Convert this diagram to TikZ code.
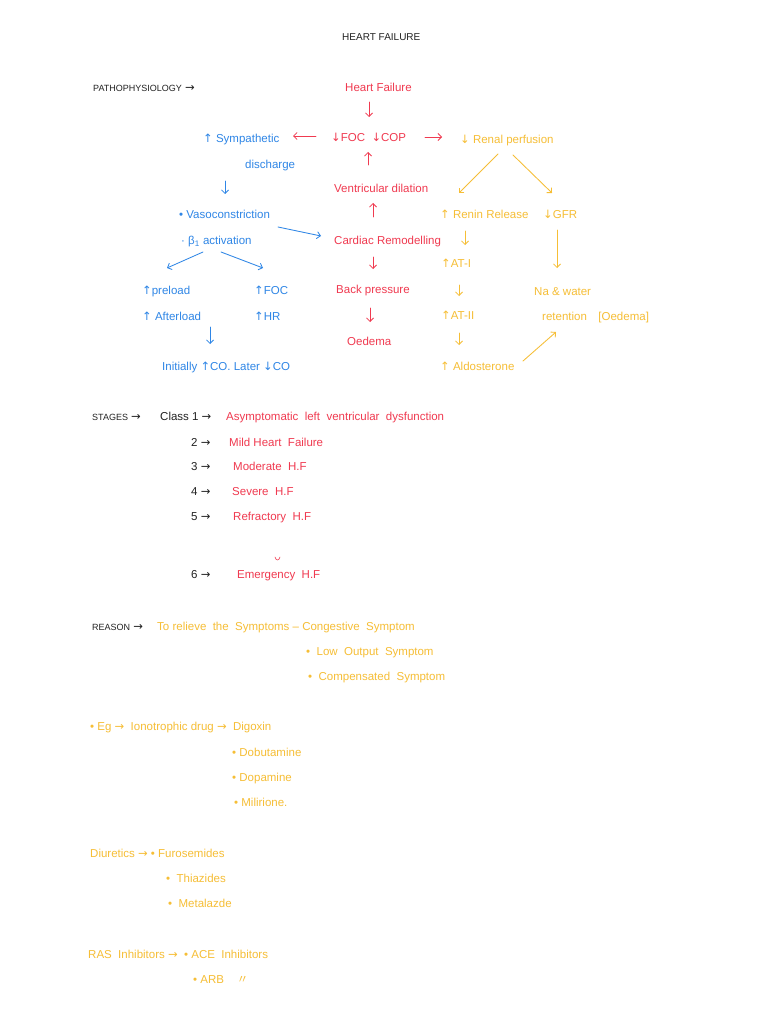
\documentclass[tikz,border=0pt]{standalone}
\usepackage{fontspec}
\setmainfont{Liberation Sans}
\newfontfamily\cjk{Noto Sans CJK SC}
\newfontfamily\dvs{DejaVu Sans}
\usetikzlibrary{arrows.meta,calc}
\definecolor{hred}{HTML}{F03A50}
\definecolor{hblue}{HTML}{2F86E6}
\definecolor{hyel}{HTML}{F6BE36}
\definecolor{hblk}{HTML}{222222}
\newcommand{\hdf}{\fontsize{9}{11}\selectfont}
\newcommand{\arU}{{\dvs ↑}}
\newcommand{\arD}{{\dvs ↓}}
\newcommand{\arR}{{\dvs →}}
\tikzset{
  txt/.style={anchor=west, inner sep=0pt, text height=9.5pt, text depth=2pt, font=\fontsize{11.5}{13}\selectfont},
  rt/.style={txt, text=hred},
  bt/.style={txt, text=hblue},
  yt/.style={txt, text=hyel},
  kt/.style={txt, text=hblk},
  con/.style={line width=0.85pt, line cap=round, -{Straight Barb[length=3.5pt,width=7pt]}},
  rc/.style={con, draw=hred},
  bc/.style={con, draw=hblue},
  yc/.style={con, draw=hyel}
}
\begin{document}
\begin{tikzpicture}[x=1pt,y=-1pt]
\fill[white] (0,0) rectangle (768,1024);
\path[use as bounding box] (0,0) rectangle (768,1024);

% title
\node[kt, font=\fontsize{10}{12}\selectfont] (title) at (342,37) {HEART FAILURE};
\node[kt] (patho) at (93,88) {{\hdf PATHOPHYSIOLOGY}\ \arR};

% red column
\node[rt] (hf) at (345,88) {Heart Failure};
\node[rt] (foc) at (331,138) {\arD{}FOC\ \ \arD{}COP};
\node[rt] (vd) at (334,189) {Ventricular dilation};
\node[rt] (cr) at (334,241) {Cardiac Remodelling};
\node[rt] (bp) at (336,290) {Back pressure};
\node[rt] (oed) at (347,342) {Oedema};

% blue column
\node[bt] (symp) at (203,139) {\arU{} Sympathetic};
\node[bt] (disc) at (245,165) {discharge};
\node[bt] (vaso) at (179,215) {• Vasoconstriction};
\node[bt] (beta) at (181,241) {· β\textsubscript{1} activation};
\node[bt] (pre) at (142,291) {\arU{}preload};
\node[bt] (after) at (142,317) {\arU{} Afterload};
\node[bt] (focup) at (254,291) {\arU{}FOC};
\node[bt] (hr) at (254,317) {\arU{}HR};
\node[bt] (init) at (162,367) {Initially \arU{}CO. Later \arD{}CO};

% yellow column
\node[yt] (renal) at (460,140) {\arD{} Renal perfusion};
\node[yt] (renin) at (440,215) {\arU{} Renin Release};
\node[yt] (gfr) at (543,215) {\arD{}GFR};
\node[yt] (at1) at (441,264) {\arU{}AT-I};
\node[yt] (at2) at (441,316) {\arU{}AT-II};
\node[yt] (ald) at (440,367) {\arU{} Aldosterone};
\node[yt] (na) at (534,292) {Na \& water};
\node[yt] (ret) at (542,317) {retention\quad[Oedema]};

% red connectors
\draw[rc] ($(hf.west)+(24,14)$) -- ($(foc.west)+(38,-21)$);
\draw[rc] ($(foc.west)+(-15,-2)$) -- ($(symp.west)+(90,-3)$);
\draw[rc] ($(foc.west)+(94,-1)$) -- ($(renal.west)+(-18,-3)$);
\draw[rc] ($(vd.west)+(34,-24)$) -- ($(foc.west)+(37,14)$);
\draw[rc] ($(cr.west)+(39,-24)$) -- ($(vd.west)+(39,14)$);
\draw[rc] ($(cr.west)+(39,16)$) -- ($(bp.west)+(37,-21)$);
\draw[rc] ($(bp.west)+(34,18)$) -- ($(oed.west)+(23,-20)$);

% blue connectors
\draw[bc] ($(symp.west)+(22,42)$) -- ($(vaso.west)+(46,-21)$);
\draw[bc] ($(vaso.west)+(99,12)$) -- ($(cr.west)+(-13,-5)$);
\draw[bc] ($(beta.west)+(22,11)$) -- ($(pre.west)+(25,-23)$);
\draw[bc] ($(beta.west)+(40,11)$) -- ($(focup.west)+(9,-23)$);
\draw[bc] ($(after.west)+(68,10)$) -- ($(init.west)+(48,-23)$);

% yellow connectors
\draw[yc] ($(renal.west)+(38,14)$) -- ($(renin.west)+(19,-22)$);
\draw[yc] ($(renal.west)+(53,15)$) -- ($(gfr.west)+(9,-22)$);
\draw[yc] ($(renin.west)+(25,16)$) -- ($(at1.west)+(24,-19)$);
\draw[yc] ($(at1.west)+(18,21)$) -- ($(at2.west)+(18,-20)$);
\draw[yc] ($(at2.west)+(18,17)$) -- ($(ald.west)+(19,-22)$);
\draw[yc] ($(gfr.west)+(14,15)$) -- ($(na.west)+(23,-24)$);
\draw[yc] ($(ald.west)+(83,-6)$) -- ($(ret.west)+(14,15)$);

% stages
\node[kt] (stg) at (92,417) {{\hdf STAGES}\ \arR};
\node[kt] (cls) at (160,417) {Class 1\ \arR};
\node[rt] (s1) at (226,417) {Asymptomatic\ \ left\ \ ventricular\ \ dysfunction};
\node[kt] (n2) at (191,443) {2\ \arR};
\node[rt] (s2) at (229,443) {Mild Heart\ \ Failure};
\node[kt] (n3) at (191,467) {3\ \arR};
\node[rt] (s3) at (233,467) {Moderate\ \ H.F};
\node[kt] (n4) at (191,492) {4\ \arR};
\node[rt] (s4) at (232,492) {Severe\ \ H.F};
\node[kt] (n5) at (191,517) {5\ \arR};
\node[rt] (s5) at (233,517) {Refractory\ \ H.F};
\draw[hred, line width=0.6pt, line cap=round] (275,557) .. controls (276,561) and (279,561) .. (280,557);
\node[kt] (n6) at (191,575) {6\ \arR};
\node[rt] (s6) at (237,575) {Emergency\ \ H.F};

% reason
\node[kt] (rsn) at (92,627) {{\hdf REASON}\ \arR};
\node[yt] (rs1) at (157,627) {To relieve\ \ the\ \ Symptoms\ – Congestive\ \ Symptom};
\node[yt] (rs2) at (306,652) {•\ \ Low\ \ Output\ \ Symptom};
\node[yt] (rs3) at (308,677) {•\ \ Compensated\ \ Symptom};

\node[yt] (eg) at (90,727) {• Eg\ \arR\ \ Ionotrophic drug\ \arR\ \ Digoxin};
\node[yt] (d2) at (232,753) {• Dobutamine};
\node[yt] (d3) at (232,778) {• Dopamine};
\node[yt] (d4) at (234,803) {• Milirione.};

\node[yt] (diu) at (90,854) {Diuretics\ \arR\ • Furosemides};
\node[yt] (th) at (166,879) {•\ \ Thiazides};
\node[yt] (me) at (168,904) {•\ \ Metalazde};

\node[yt] (ras) at (88,955) {RAS\ \ Inhibitors\ \arR\ \ •\ ACE\ \ Inhibitors};
\node[yt] (arb) at (193,980) {•\ ARB\ \ \ \ {\cjk 〃}};
\end{tikzpicture}
\end{document}
